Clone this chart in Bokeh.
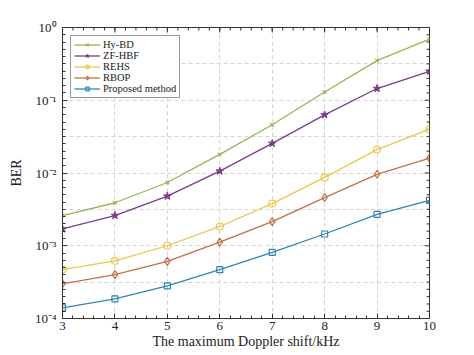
import math
from bokeh.plotting import figure
from bokeh.embed import file_html
from bokeh.resources import INLINE
from bokeh.models import FixedTicker, Legend, LegendItem

# ---- data ----
doppler_khz = [3, 4, 5, 6, 7, 8, 9, 10]
hy_bd = [2.6e-3, 3.9e-3, 7.4e-3, 1.8e-2, 4.6e-2, 1.3e-1, 3.5e-1, 6.9e-1]
zf_hbf = [1.7e-3, 2.6e-3, 4.8e-3, 1.06e-2, 2.55e-2, 6.3e-2, 1.45e-1, 2.5e-1]
rehs = [4.7e-4, 6.2e-4, 1.0e-3, 1.84e-3, 3.8e-3, 8.7e-3, 2.1e-2, 4.0e-2]
rbop = [3.0e-4, 4.0e-4, 6.1e-4, 1.12e-3, 2.15e-3, 4.6e-3, 9.6e-3, 1.6e-2]
proposed = [1.4e-4, 1.86e-4, 2.8e-4, 4.7e-4, 8.1e-4, 1.45e-3, 2.7e-3, 4.2e-3]

series_names = ["Hy-BD", "ZF-HBF", "REHS", "RBOP", "Proposed method"]
series_values = [hy_bd, zf_hbf, rehs, rbop, proposed]
series_colors = ["#93b656", "#7b3c8c", "#e8c84a", "#c2704a", "#2f86b3"]
series_markers = ["x", "star", "circle", "diamond", "square"]
series_sizes = [5, 8, 7, 8, 6]

x_ticks = [3, 4, 5, 6, 7, 8, 9, 10]
y_ticks = [1e-4, 1e-3, 1e-2, 1e-1, 1e0]
y_tick_labels = ["10\u207b\u2074", "10\u207b\u00b3", "10\u207b\u00b2", "10\u207b\u00b9", "10\u2070"]

X_MIN, X_MAX = 3, 10
Y_MIN, Y_MAX = 1e-4, 1

FONT = "Liberation Serif"
AX = "#333333"

p = figure(width=474, height=355, y_axis_type="log",
           x_range=(X_MIN, X_MAX), y_range=(Y_MIN, Y_MAX),
           output_backend="svg", toolbar_location=None,
           min_border_left=62, min_border_right=45,
           min_border_top=27, min_border_bottom=37)
p.background_fill_color = "white"
p.border_fill_color = "white"
p.outline_line_color = AX
p.outline_line_width = 1

x_minor = [X_MIN + i * 0.2 for i in range(int((X_MAX - X_MIN) / 0.2) + 1)]
y_minor = [10 ** (n + k / 10.0) for n in range(-4, 0) for k in range(1, 10)]
xticker = FixedTicker(ticks=x_ticks, minor_ticks=x_minor)
yticker = FixedTicker(ticks=y_ticks, minor_ticks=y_minor)

def style_axis(ax):
    ax.axis_line_color = AX
    ax.axis_line_width = 1
    ax.major_tick_in = 5
    ax.major_tick_out = 0
    ax.minor_tick_in = 3
    ax.minor_tick_out = 0
    ax.major_tick_line_color = AX
    ax.minor_tick_line_color = AX
    ax.major_label_text_font = FONT
    ax.major_label_text_font_size = "13px"
    ax.major_label_text_color = "#222222"
    ax.axis_label_text_font = FONT
    ax.axis_label_text_font_style = "normal"
    ax.axis_label_text_font_size = "14px"
    ax.axis_label_text_color = "#222222"

xa = p.xaxis[0]
xa.ticker = xticker
style_axis(xa)
xa.axis_label = "The maximum Doppler shift/kHz"
xa.major_label_standoff = 3
xa.axis_label_standoff = 1

ya = p.yaxis[0]
ya.ticker = yticker
style_axis(ya)
ya.major_label_overrides = {v: s for v, s in zip(y_ticks, y_tick_labels)}
ya.axis_label = "BER"
ya.major_label_standoff = 6
ya.axis_label_standoff = 8

# inward ticks on the top and right edges of the box (clipped to the frame)
p.scatter(x_ticks, [Y_MAX] * len(x_ticks), marker="dash", angle=math.pi / 2,
          size=10, line_color=AX, line_width=1)
p.scatter(x_minor, [Y_MAX] * len(x_minor), marker="dash", angle=math.pi / 2,
          size=6, line_color=AX, line_width=1)
p.scatter([X_MAX] * len(y_ticks), y_ticks, marker="dash",
          size=10, line_color=AX, line_width=1)
p.scatter([X_MAX] * len(y_minor), y_minor, marker="dash",
          size=6, line_color=AX, line_width=1)

# grids
p.xgrid[0].ticker = FixedTicker(ticks=x_ticks)
p.ygrid[0].ticker = FixedTicker(ticks=[10 ** (-h / 2.0) for h in range(0, 9)])
for g in (p.xgrid[0], p.ygrid[0]):
    g.grid_line_color = "#d4d4d4"
    g.grid_line_dash = "4 3"
    g.grid_line_width = 1

items = []
for name, vals, col, mk, sz in zip(series_names, series_values, series_colors,
                                   series_markers, series_sizes):
    r1 = p.line(doppler_khz, vals, line_color=col, line_width=1.3)
    if mk == "star":
        r2 = p.scatter(doppler_khz, vals, marker=mk, size=sz, line_color=col,
                       fill_color=col, line_width=1)
    else:
        r2 = p.scatter(doppler_khz, vals, marker=mk, size=sz, line_color=col,
                       fill_color=None, line_width=1.2)
    items.append(LegendItem(label=name, renderers=[r1, r2]))

legend = Legend(items=items, location="top_left")
legend.margin = 8
legend.padding = 3
legend.spacing = 0
legend.label_height = 9
legend.glyph_height = 9
legend.glyph_width = 26
legend.label_standoff = 3
legend.label_text_font = FONT
legend.label_text_font_size = "10.5px"
legend.label_text_color = "#222222"
legend.border_line_color = AX
legend.border_line_width = 1
legend.background_fill_color = "white"
legend.background_fill_alpha = 1
p.add_layout(legend)

open("out.html", "w").write(file_html(p, INLINE))
